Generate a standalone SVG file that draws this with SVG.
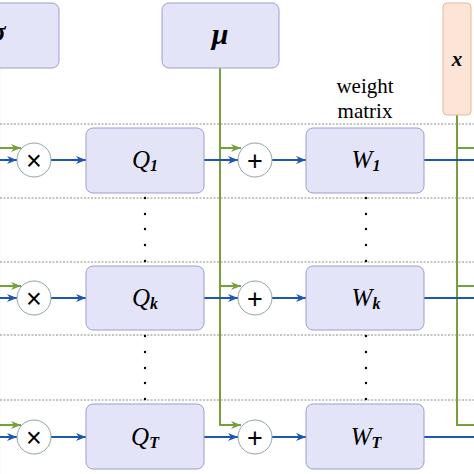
<svg xmlns="http://www.w3.org/2000/svg" width="474" height="474" viewBox="0 0 474 474">
<style>
.box{fill:#e4e4f9;stroke:#9d9dd0;stroke-width:1}
.xbox{fill:#fce4d6;stroke:#e8b796;stroke-width:1}
.op{fill:#ffffff;stroke:#8fa3a3;stroke-width:1}
.blue{stroke:#1c57b5;stroke-width:2;fill:none}
.green{stroke:#76a13a;stroke-width:2;fill:none}
.dot{stroke:#8a8a8a;stroke-width:1;stroke-dasharray:2 1.5;fill:none}
.lbl{font-family:"Liberation Serif","Times New Roman",serif;fill:#000}
.sym{font-family:"Liberation Sans",Arial,sans-serif;font-size:27px;fill:#000}
.vd{fill:#000}
</style>
<defs>
<marker id="ab" viewBox="0 0 10 8" refX="10" refY="4" markerWidth="10" markerHeight="8" markerUnits="userSpaceOnUse" orient="auto">
<path d="M0,0 L10,4 L0,8 L3,4 z" fill="#1c57b5"/>
</marker>
<marker id="ag" viewBox="0 0 10 8" refX="10" refY="4" markerWidth="10" markerHeight="8" markerUnits="userSpaceOnUse" orient="auto">
<path d="M0,0 L10,4 L0,8 L3,4 z" fill="#76a13a"/>
</marker>
</defs>

<g id="separators">
<line class="dot" x1="0" y1="124" x2="474" y2="124"/>
<line class="dot" x1="0" y1="198" x2="474" y2="198"/>
<line class="dot" x1="0" y1="262" x2="474" y2="262"/>
<line class="dot" x1="0" y1="335" x2="474" y2="335"/>
<line class="dot" x1="0" y1="400" x2="474" y2="400"/>
</g>

<g id="ellipsis">
<circle class="vd" cx="145" cy="198" r="1.2"/><circle class="vd" cx="145" cy="214" r="1.2"/><circle class="vd" cx="145" cy="229" r="1.2"/><circle class="vd" cx="145" cy="245" r="1.2"/><circle class="vd" cx="145" cy="261" r="1.2"/>
<circle class="vd" cx="366" cy="198" r="1.2"/><circle class="vd" cx="366" cy="214" r="1.2"/><circle class="vd" cx="366" cy="229" r="1.2"/><circle class="vd" cx="366" cy="245" r="1.2"/><circle class="vd" cx="366" cy="261" r="1.2"/>
<circle class="vd" cx="145" cy="336" r="1.2"/><circle class="vd" cx="145" cy="352" r="1.2"/><circle class="vd" cx="145" cy="368" r="1.2"/><circle class="vd" cx="145" cy="383" r="1.2"/><circle class="vd" cx="145" cy="399" r="1.2"/>
<circle class="vd" cx="366" cy="336" r="1.2"/><circle class="vd" cx="366" cy="352" r="1.2"/><circle class="vd" cx="366" cy="368" r="1.2"/><circle class="vd" cx="366" cy="383" r="1.2"/><circle class="vd" cx="366" cy="399" r="1.2"/>
</g>

<g id="connectors">
<line x1="-0.9" y1="68" x2="-0.9" y2="474" stroke="#c8d890" stroke-width="2"/>
<line class="green" x1="0" y1="148" x2="21" y2="148" marker-end="url(#ag)"/>
<line class="green" x1="0" y1="286" x2="21" y2="286" marker-end="url(#ag)"/>
<line class="green" x1="0" y1="425" x2="21" y2="425" marker-end="url(#ag)"/>
<path class="green" d="M220,68 V425 H241" marker-end="url(#ag)"/>
<line class="green" x1="220" y1="148" x2="241" y2="148" marker-end="url(#ag)"/>
<line class="green" x1="220" y1="286" x2="241" y2="286" marker-end="url(#ag)"/>
<path class="green" d="M457,115 V425 H474"/>
<line class="green" x1="457" y1="148" x2="474" y2="148"/>
<line class="green" x1="457" y1="286" x2="474" y2="286"/>
<line class="blue" x1="0" y1="160" x2="17" y2="160" marker-end="url(#ab)"/>
<line class="blue" x1="51" y1="160" x2="86" y2="160" marker-end="url(#ab)"/>
<line class="blue" x1="204" y1="160" x2="238" y2="160" marker-end="url(#ab)"/>
<line class="blue" x1="272" y1="160" x2="306" y2="160" marker-end="url(#ab)"/>
<line class="blue" x1="424" y1="160" x2="474" y2="160"/>
<line class="blue" x1="0" y1="298" x2="17" y2="298" marker-end="url(#ab)"/>
<line class="blue" x1="51" y1="298" x2="86" y2="298" marker-end="url(#ab)"/>
<line class="blue" x1="204" y1="298" x2="238" y2="298" marker-end="url(#ab)"/>
<line class="blue" x1="272" y1="298" x2="306" y2="298" marker-end="url(#ab)"/>
<line class="blue" x1="424" y1="298" x2="474" y2="298"/>
<line class="blue" x1="0" y1="437" x2="17" y2="437" marker-end="url(#ab)"/>
<line class="blue" x1="51" y1="437" x2="86" y2="437" marker-end="url(#ab)"/>
<line class="blue" x1="204" y1="437" x2="238" y2="437" marker-end="url(#ab)"/>
<line class="blue" x1="272" y1="437" x2="306" y2="437" marker-end="url(#ab)"/>
<line class="blue" x1="424" y1="437" x2="474" y2="437"/>
</g>

<g id="sigma">
<rect class="box" x="-60" y="3" width="119" height="65" rx="7"/>
<text class="lbl" x="-2" y="41" font-size="28" font-weight="bold" font-style="italic" text-anchor="middle">σ</text>
</g>
<g id="mu">
<rect class="box" x="162" y="3" width="117" height="65" rx="7"/>
<text class="lbl" x="220" y="44" font-size="30" font-weight="bold" font-style="italic" text-anchor="middle">μ</text>
</g>
<g id="x">
<rect class="xbox" x="443" y="3" width="28" height="112" rx="4"/>
<text class="lbl" x="457" y="66" font-size="21" font-weight="bold" font-style="italic" text-anchor="middle">x</text>
</g>
<g id="weight-label">
<text class="lbl" x="365" y="93" font-size="21" text-anchor="middle">weight</text>
<text class="lbl" x="365" y="118" font-size="21" text-anchor="middle">matrix</text>
</g>

<g id="mul1"><circle class="op" cx="34" cy="160" r="17"/><text class="sym" x="34" y="169.5" text-anchor="middle">×</text></g>
<g id="mulk"><circle class="op" cx="34" cy="298" r="17"/><text class="sym" x="34" y="307.5" text-anchor="middle">×</text></g>
<g id="mulT"><circle class="op" cx="34" cy="437" r="17"/><text class="sym" x="34" y="446.5" text-anchor="middle">×</text></g>
<g id="add1"><circle class="op" cx="255" cy="160" r="17"/><text class="sym" x="255" y="169.5" text-anchor="middle">+</text></g>
<g id="addk"><circle class="op" cx="255" cy="298" r="17"/><text class="sym" x="255" y="307.5" text-anchor="middle">+</text></g>
<g id="addT"><circle class="op" cx="255" cy="437" r="17"/><text class="sym" x="255" y="446.5" text-anchor="middle">+</text></g>

<g id="Q1"><rect class="box" x="86" y="128" width="118" height="65" rx="7"/>
<text class="lbl" x="145" y="168" font-size="25" font-style="italic" text-anchor="middle">Q<tspan font-size="16" font-weight="bold" dy="3">1</tspan></text></g>
<g id="Qk"><rect class="box" x="86" y="266" width="118" height="64" rx="7"/>
<text class="lbl" x="145" y="306" font-size="25" font-style="italic" text-anchor="middle">Q<tspan font-size="16" font-weight="bold" dy="3">k</tspan></text></g>
<g id="QT"><rect class="box" x="86" y="404" width="118" height="65" rx="7"/>
<text class="lbl" x="145" y="445" font-size="25" font-style="italic" text-anchor="middle">Q<tspan font-size="16" font-weight="bold" dy="3">T</tspan></text></g>
<g id="W1"><rect class="box" x="306" y="128" width="118" height="65" rx="7"/>
<text class="lbl" x="366" y="168" font-size="25" font-style="italic" text-anchor="middle">W<tspan font-size="16" font-weight="bold" dy="3">1</tspan></text></g>
<g id="Wk"><rect class="box" x="306" y="266" width="118" height="64" rx="7"/>
<text class="lbl" x="366" y="306" font-size="25" font-style="italic" text-anchor="middle">W<tspan font-size="16" font-weight="bold" dy="3">k</tspan></text></g>
<g id="WT"><rect class="box" x="306" y="404" width="118" height="65" rx="7"/>
<text class="lbl" x="366" y="445" font-size="25" font-style="italic" text-anchor="middle">W<tspan font-size="16" font-weight="bold" dy="3">T</tspan></text></g>
</svg>
